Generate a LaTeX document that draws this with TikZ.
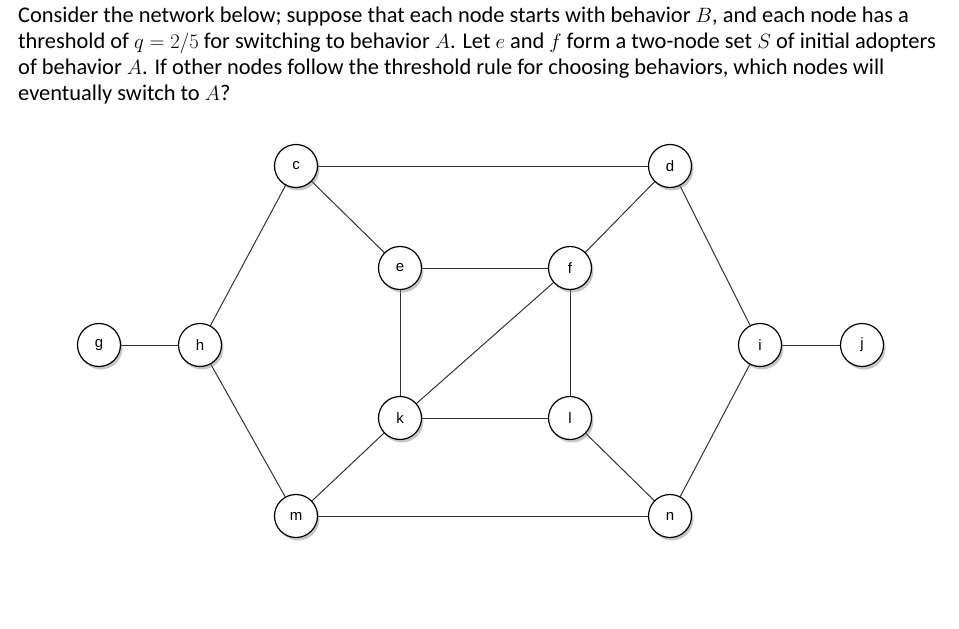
\documentclass[tikz,border=0pt]{standalone}
\usepackage{fontspec}
\setmainfont{Carlito}
\setsansfont{Liberation Sans}
\usetikzlibrary{shadows}
\begin{document}
\begin{tikzpicture}[x=1pt,y=-1pt,
  vtx/.style={circle,draw=black,line width=1.2pt,fill=white,minimum size=43pt,inner sep=0pt,font=\fontsize{15}{15}\selectfont\sffamily,
    drop shadow={shadow xshift=2pt,shadow yshift=-3pt,opacity=0.45,fill=gray}},
  edge/.style={line width=1pt,draw=black!80},
  txt/.style={anchor=base west,inner sep=0pt,font=\fontsize{22.4}{22.4}\selectfont}]
\useasboundingbox (0,0) rectangle (959,629);
\node[txt] (t1) at (18,22) {Consider the network below; suppose that each node starts with behavior $B$, and each node has a};
\node[txt] (t2) at (18,48) {threshold of $q=2/5$ for switching to behavior $A$. Let $e$ and $f$ form a two-node set $S$ of initial adopters};
\node[txt] (t3) at (18,74) {of behavior $A$. If other nodes follow the threshold rule for choosing behaviors, which nodes will};
\node[txt] (t4) at (18,100) {eventually switch to $A$?};
\coordinate (C) at (296,166); \coordinate (D) at (670,166);
\coordinate (E) at (400,268); \coordinate (F) at (570,268);
\coordinate (G) at (99,345); \coordinate (H) at (200,345);
\coordinate (I) at (760,345); \coordinate (J) at (862,345);
\coordinate (K) at (400,418); \coordinate (L) at (570,418);
\coordinate (M) at (296,516); \coordinate (N) at (670,516);
\foreach \a/\b in {C/D,C/H,C/E,D/F,D/I,E/F,E/K,F/K,F/L,K/L,L/N,K/M,H/M,M/N,I/N,G/H,I/J}
  \draw[edge] (\a) -- (\b);
\node[vtx] (c) at (C) {c};
\node[vtx] (d) at (D) {d};
\node[vtx] (e) at (E) {e};
\node[vtx] (f) at (F) {f};
\node[vtx] (g) at (G) {g};
\node[vtx] (h) at (H) {h};
\node[vtx] (i) at (I) {i};
\node[vtx] (j) at (J) {j};
\node[vtx] (k) at (K) {k};
\node[vtx] (l) at (L) {l};
\node[vtx] (m) at (M) {m};
\node[vtx] (n) at (N) {n};
\end{tikzpicture}
\end{document}
